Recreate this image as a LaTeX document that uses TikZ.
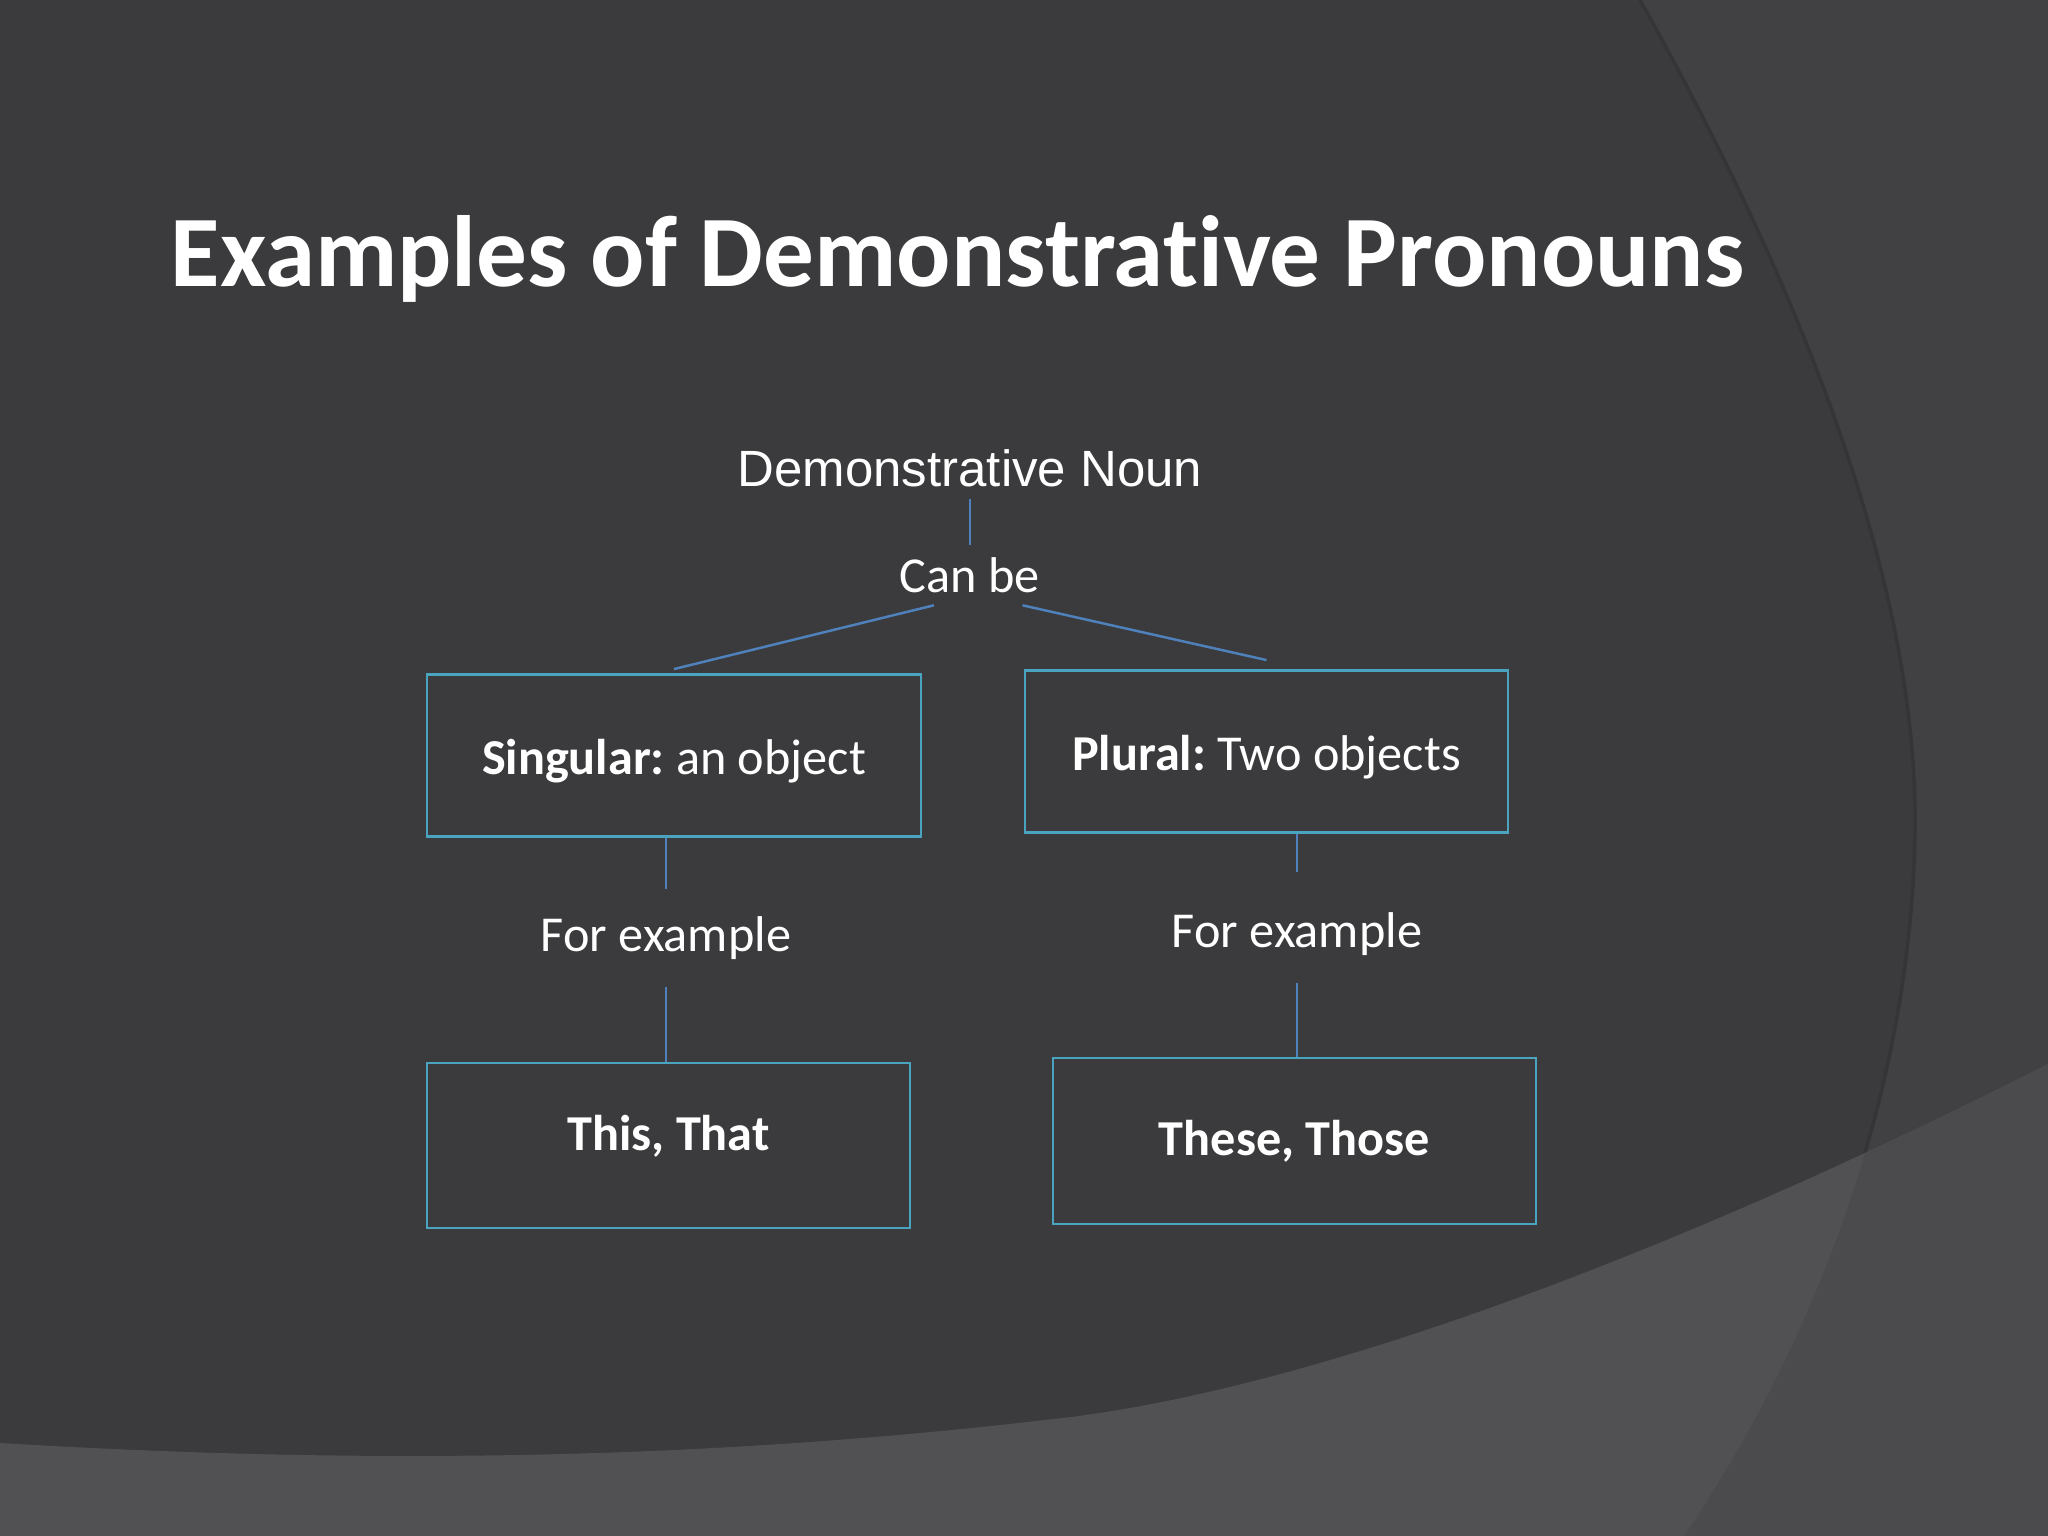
\documentclass[tikz,border=0pt]{standalone}
\usepackage{fontspec}
\setmainfont{Carlito}[Ligatures=NoCommon]
\newfontfamily\arialfont{Liberation Sans}
\definecolor{slate}{HTML}{3B3B3D}
\definecolor{slateright}{HTML}{414143}
\definecolor{slatelow}{HTML}{515153}
\definecolor{slatecorner}{HTML}{4B4B4D}
\definecolor{slateedge}{HTML}{353537}
\definecolor{boxline}{HTML}{4AA3BF}
\definecolor{linkline}{HTML}{4F81BD}
\frenchspacing

\begin{document}
\begin{tikzpicture}[
  framebox/.style={rectangle, draw=boxline, line width=0.8pt, fill=slate,
    inner sep=0pt, minimum height=1.62cm, text=white,
    font=\fontsize{14.3}{17}\selectfont},
  wordnode/.style={text=white, inner sep=0.27cm, font=\fontsize{14.3}{17}\selectfont},
  link/.style={draw=linkline, line width=0.7pt}
]
\useasboundingbox (0,0) rectangle (20.48,15.36);

% background
\fill[slate] (0,0) rectangle (20.48,15.36);
\fill[slateright] (16.40,15.36) .. controls (18.0,12.5) and (19.2,9.5) .. (19.15,7.0)
  .. controls (19.1,4.5) and (18.2,2.0) .. (16.84,0) -- (20.48,0) -- (20.48,15.36) -- cycle;
\draw[slateedge, line width=1pt] (16.40,15.36) .. controls (18.0,12.5) and (19.2,9.5) .. (19.15,7.0)
  .. controls (19.1,4.5) and (18.2,2.0) .. (16.84,0);
\fill[slatelow] (0,0.93) .. controls (3,0.75) and (6.5,0.7) .. (10.45,1.16)
  .. controls (13.3,1.45) and (17.3,3.1) .. (20.48,4.72) -- (20.48,0) -- (0,0) -- cycle;
\begin{scope}
\clip (0,0.93) .. controls (3,0.75) and (6.5,0.7) .. (10.45,1.16)
  .. controls (13.3,1.45) and (17.3,3.1) .. (20.48,4.72) -- (20.48,0) -- (0,0) -- cycle;
\fill[slatecorner] (19.15,7.0) .. controls (19.1,4.5) and (18.2,2.0) .. (16.84,0)
  -- (20.48,0) -- (20.48,7.0) -- cycle;
\end{scope}

% title
\node[anchor=base west, text=white, inner sep=0pt, font=\fontsize{28.8}{34}\selectfont\bfseries]
  (title) at (1.70,12.49) {Examples of Demonstrative Pronouns};

% tree
\node[text=white, font=\arialfont\fontsize{14.5}{18}\selectfont] (demo) at (9.70,10.68) {Demonstrative Noun};
\node[wordnode, inner sep=0.12cm] (canbe) at (9.70,9.61) {Can be};

\node[framebox, minimum width=4.94cm, text height=0.46cm] (sing) at (6.74,7.805) {\textbf{Singular:} an object};
\node[framebox, minimum width=4.83cm, text height=0.46cm] (plur) at (12.665,7.845) {\textbf{Plural:} Two objects};

\node[wordnode] (forexl) at (6.66,5.98) {For example};
\node[wordnode] (forexr) at (12.97,6.02) {For example};

\node[framebox, minimum width=4.83cm, minimum height=1.65cm, text depth=0.25cm] (this) at (6.685,3.905) {\textbf{This, That}};
\node[framebox, minimum width=4.83cm, minimum height=1.66cm] (these) at (12.945,3.95) {\textbf{These, Those}};

\draw[link] (demo.south -| canbe) -- (canbe.north);
\draw[link] (canbe.220) -- ([yshift=0.04cm]sing.north);
\draw[link] (canbe.330) -- ([yshift=0.09cm]plur.north);

\draw[link] (forexl.north |- sing.south) -- (forexl.north);
\draw[link] (forexl.south) -- (forexl.south |- this.north);
\draw[link] (forexr.north |- plur.south) -- ([yshift=0.13cm]forexr.north);
\draw[link] (forexr.south) -- (forexr.south |- these.north);
\end{tikzpicture}
\end{document}
